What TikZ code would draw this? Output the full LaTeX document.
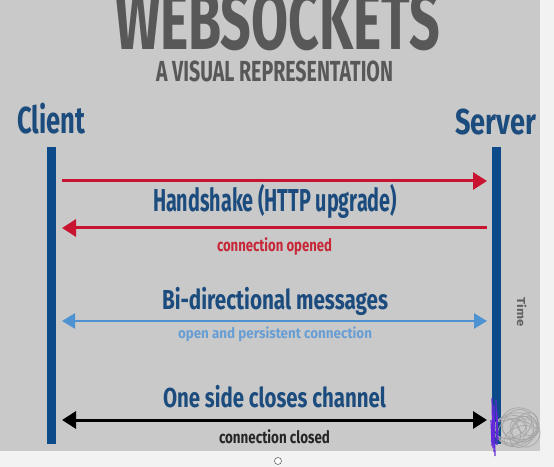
\documentclass[tikz,border=0pt]{standalone}
\usepackage{fontspec}
\usepackage{graphicx}
\setmainfont{Fira Sans}
\usetikzlibrary{arrows.meta}
\definecolor{bggray}{RGB}{201,201,201}
\definecolor{paper}{RGB}{242,242,242}
\definecolor{titlegray}{RGB}{88,88,88}
\definecolor{navytext}{RGB}{28,76,126}
\definecolor{barblue}{RGB}{12,74,138}
\definecolor{arrowred}{RGB}{200,20,48}
\definecolor{textred}{RGB}{198,40,56}
\definecolor{lightblue}{RGB}{78,146,210}
\definecolor{lightbluetext}{RGB}{104,158,212}
\definecolor{scribblepurple}{RGB}{100,40,220}
\newcommand\fitto[4]{\resizebox{#1}{#2}{\raisebox{0pt}[\fontcharht\font`#3][0pt]{#4}}}
\tikzset{
  lbl/.style={inner sep=0pt, outer sep=0pt, anchor=base west, font=\bfseries},
  bar/.style={fill=barblue, draw=none, minimum width=9bp, minimum height=297bp, inner sep=0pt},
  redarrow/.style={draw=arrowred, line width=3bp},
  bluearrow/.style={draw=lightblue, line width=2.5bp},
  blackarrow/.style={draw=black, line width=3bp},
  bigtip/.style={-{Triangle[length=14bp,width=17bp]}},
}
\begin{document}
\begin{tikzpicture}[x=1bp,y=-1bp]
\useasboundingbox (0,0) rectangle (554,467);
\clip (0,0) rectangle (554,467);
\fill[paper] (0,0) rectangle (554,467);
\fill[bggray] (0,0) rectangle (540,451);
% title
\node[lbl, text=titlegray] (title) at (115,50) {\fitto{325bp}{57bp}{W}{WEBSOCKETS}};
\node[lbl, text=titlegray, font=\mdseries] (subtitle) at (156,82) {\fitto{237bp}{20bp}{A}{\addfontfeatures{}\bfseries A VISUAL REPRESENTATION}};
% actors
\node[lbl, text=navytext] (client) at (17,134) {\fitto{68bp}{26bp}{C}{Client}};
\node[lbl, text=navytext] (server) at (455,135) {\fitto{81bp}{25bp}{S}{Server}};
% life lines
\node[bar] (cbar) at (51.5,295.5) {};
\node[bar] (sbar) at (496.5,295.5) {};
% arrow end points
\coordinate (c1) at (62,181); \coordinate (s1) at (487,181);
\coordinate (c2) at (62,228); \coordinate (s2) at (487,228);
\coordinate (c3) at (62,321); \coordinate (s3) at (487,321);
\coordinate (c4) at (62,420); \coordinate (s4) at (487,420);
\draw[redarrow, bigtip] (c1) -- (s1);
\draw[redarrow, bigtip] (s2) -- (c2);
\draw[bluearrow, {Triangle[length=13bp,width=15bp]}-{Triangle[length=13bp,width=15bp]}] (c3) -- (s3);
\draw[blackarrow, {Triangle[length=14bp,width=17bp]}-{Triangle[length=14bp,width=17bp]}] (c4) -- (s4);
% labels
\node[lbl, text=navytext] (hs) at (153,212) {\fitto{244bp}{22bp}{H}{Handshake (HTTP upgrade)}};
\node[lbl, text=textred] (opened) at (217,252) {\fitto{115bp}{13bp}{d}{connection opened}};
\node[lbl, text=navytext] (bidi) at (162,309) {\fitto{226bp}{19bp}{B}{Bi-directional messages}};
\node[lbl, text=lightbluetext] (persist) at (178,338) {\fitto{194bp}{11bp}{d}{open and persistent connection}};
\node[lbl, text=navytext] (close) at (163,407) {\fitto{223bp}{19bp}{O}{One side closes channel}};
\node[lbl, text=black!85] (closed) at (219,443) {\fitto{111bp}{13bp}{d}{connection closed}};
\node[inner sep=0pt, rotate=-90, text=black!62, font=\bfseries] (time) at (521,312) {\fitto{29bp}{8bp}{T}{Time}};
% scribbles
\foreach \cx/\cy/\rx/\ry/\a in {515/428/22/15/10, 520/425/19/17/-20, 512/432/15/13/35, 524/430/19/12/60, 517/424/13/16/-45, 510/427/17/11/15, 526/433/14/14/80, 514/430/23/10/-5, 519/436/16/9/25, 522/428/12/12/0, 508/431/11/15/40, 528/426/12/9/-30}
  \draw[gray!70, line width=0.7bp, rotate around={\a:(\cx,\cy)}] (\cx,\cy) ellipse ({\rx bp} and {\ry bp});
\foreach \xx/\ya/\yb in {492/398/448, 494/405/456, 496/400/445, 493/410/452, 497/412/440, 491/420/446}
  \draw[scribblepurple, line width=1.2bp] (\xx,\ya) -- (\xx+1,\yb);
% footer dot
\node[circle, draw=black!60, fill=white, line width=0.6bp, minimum size=7bp, inner sep=0pt] (dot) at (278,461) {};
\end{tikzpicture}
\end{document}
